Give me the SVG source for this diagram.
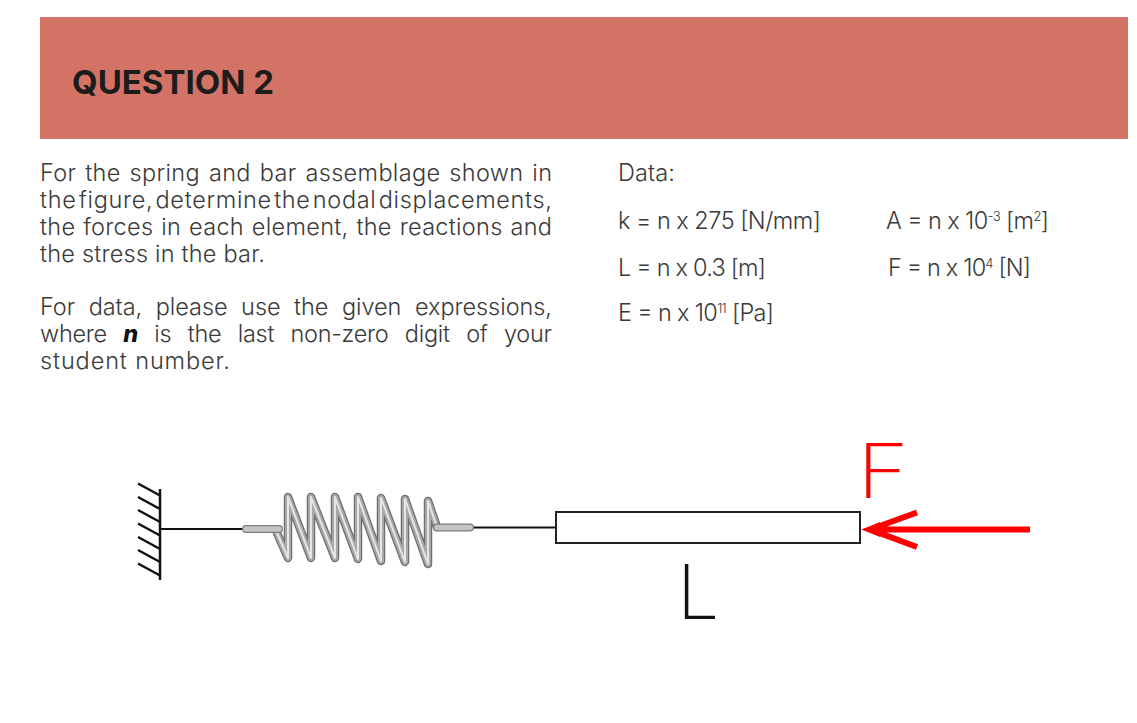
<svg xmlns="http://www.w3.org/2000/svg" width="1137" height="723" viewBox="0 0 1137 723">
<style>
text{font-family:"Inter","Open Sans","Liberation Sans",sans-serif}
.b{font-size:23.5px;font-weight:300;fill:#3a3a3a}
.s{font-size:13px}
.h{font-size:33px;font-weight:700;fill:#1c1c1c}
.big{font-size:75px;font-weight:150}
.c1{fill:none;stroke:#6f6f6f;stroke-width:8.500;stroke-linecap:round;stroke-linejoin:round}
.c2{fill:none;stroke:#a8a8a8;stroke-width:6;stroke-linecap:round;stroke-linejoin:round}
.c3{fill:none;stroke:#e6e6e6;stroke-width:2;stroke-linecap:round;stroke-linejoin:round}
.t1{fill:none;stroke:#7d7d7d;stroke-width:8;stroke-linecap:round}
.t2{fill:none;stroke:#c4c4c4;stroke-width:5.500;stroke-linecap:round}
.k{stroke:#111;fill:none}
</style>
<rect width="1137" height="723" fill="#fff"/>
<g id="header">
<rect x="40" y="17" width="1088" height="122" fill="#d37366"/>
<text class="h" x="72" y="94" textLength="202">QUESTION 2</text>
</g>
<g id="problem-text">
<text class="b" x="40" y="181" textLength="512" word-spacing="2">For the spring and bar assemblage shown in</text>
<text class="b" x="40" y="208" textLength="512" word-spacing="-5">the figure, determine the nodal displacements,</text>
<text class="b" x="40" y="235" textLength="512" word-spacing="1">the forces in each element, the reactions and</text>
<text class="b" x="40" y="262" textLength="225">the stress in the bar.</text>
<text class="b" x="40" y="315" textLength="512" word-spacing="7">For data, please use the given expressions,</text>
<text class="b" x="40" y="342" textLength="512" word-spacing="10">where <tspan font-weight="800" font-style="italic" fill="#111">n</tspan> is the last non-zero digit of your</text>
<text class="b" x="40" y="369" textLength="190">student number.</text>
</g>
<g id="data-text">
<text class="b" x="618" y="181" textLength="57">Data:</text>
<text class="b" x="618" y="229" textLength="203">k = n x 275 [N/mm]</text>
<text class="b" x="618" y="276" textLength="148">L = n x 0.3 [m]</text>
<text class="b" x="618" y="321" textLength="156">E = n x 10<tspan class="s" dy="-8">11</tspan><tspan dy="8"> [Pa]</tspan></text>
<text class="b" x="886" y="229" textLength="163">A = n x 10<tspan class="s" dy="-8">-3</tspan><tspan dy="8"> [m</tspan><tspan class="s" dy="-8">2</tspan><tspan dy="8">]</tspan></text>
<text class="b" x="888" y="276" textLength="143">F = n x 10<tspan class="s" dy="-8">4</tspan><tspan dy="8"> [N]</tspan></text>
</g>
<g id="wall">
<path class="k" stroke-width="2.500" d="M160 489V580M138 483.500L160 495.500M138 497L160 509M138 510L160 522M138 523.500L160 535.500M138 537L160 549M138 550L160 562M138 563.500L160 575.500"/>
</g>
<g id="connectors">
<path class="k" stroke-width="2" d="M160 529H246M471 527.500H556"/>
</g>
<g id="spring">
<g id="coil">
<path class="c1" d="M277 533L288 558V497L311 558V497L335 558V497L358 559V497L381 561V498L405 562V499L428 564V501L437 527"/>
<path class="c2" d="M277 533L288 558V497L311 558V497L335 558V497L358 559V497L381 561V498L405 562V499L428 564V501L437 527"/>
<path class="c3" d="M277 533L288 558V497L311 558V497L335 558V497L358 559V497L381 561V498L405 562V499L428 564V501L437 527"/>
</g>
<path class="t1" d="M246 529H279"/><path class="t2" d="M246 529H279"/>
<path class="t1" d="M437 527.500H470"/><path class="t2" d="M437 527.500H470"/>
</g>
<g id="bar">
<rect x="556" y="512" width="304" height="31" fill="#fff" stroke="#222" stroke-width="2"/>
</g>
<g id="force">
<path fill="none" stroke="#f00" stroke-width="6" d="M1030 529.500H872M917 512.500L870 529.500L917 547"/>
<path fill="#f00" d="M862 529.500L880 522V537Z"/>
<text class="big" x="857" y="498" fill="#f00" textLength="52" lengthAdjust="spacingAndGlyphs">F</text>
</g>
<g id="length">
<text class="big" x="677" y="619" fill="#111">L</text>
</g>
</svg>
